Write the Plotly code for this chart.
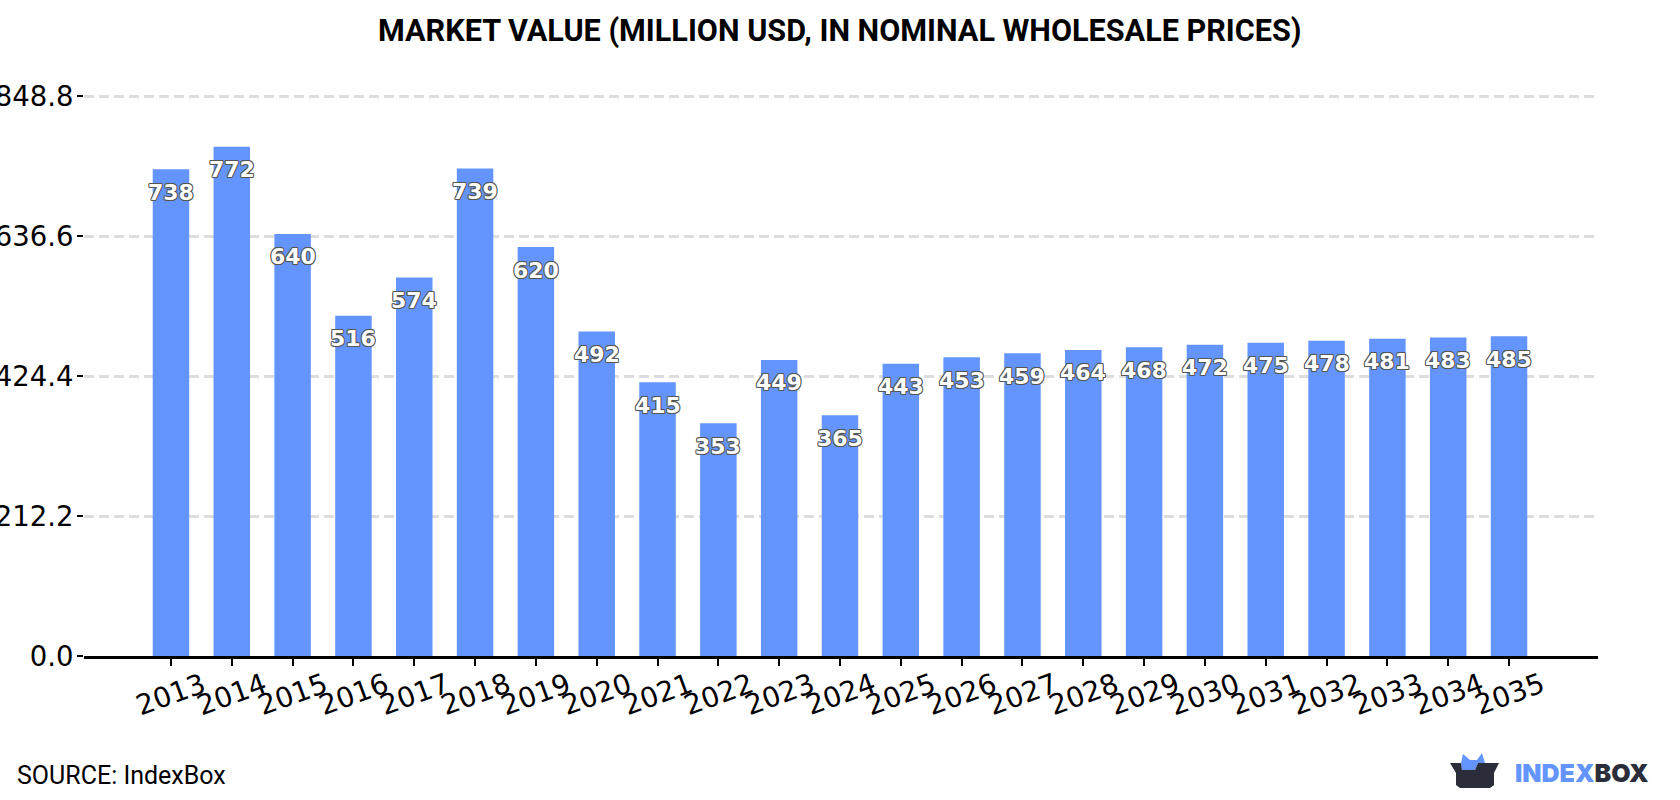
import plotly.graph_objects as go

years = list(range(2013, 2036))
values = [738, 772, 640, 516, 574, 739, 620, 492, 415, 353, 449, 365, 443,
          453, 459, 464, 468, 472, 475, 478, 481, 483, 485]
y_ticks = [0.0, 212.2, 424.4, 636.6, 848.8]
title_text = "MARKET VALUE (MILLION USD, IN NOMINAL WHOLESALE PRICES)"
source_text = "SOURCE: IndexBox"

BLUE = "#6495ff"
DARK = "#2b2d3a"
WIDTH, HEIGHT = 1680, 800
# The plot area runs a little past the top tick so its gridline is kept.
LEFT, RIGHT, TOP, BOTTOM = 84, 1598, 90, 656
Y_MAX = 858.2


def px(x):
    return (x - LEFT) / (RIGHT - LEFT)


def py(y):
    return (BOTTOM - y) / (BOTTOM - TOP)


def path(points):
    return "M" + " L".join(f"{px(x):.5f},{py(y):.5f}" for x, y in points) + " Z"


outline = ", ".join(f"{a}px {b}px 0 #555" for a, b in
                    [(-0.7, -0.7), (0.7, -0.7), (-0.7, 0.7), (0.7, 0.7), (-1, 0), (1, 0), (0, -1), (0, 1)])

fig = go.Figure(go.Bar(x=years, y=values, width=0.6, marker=dict(color=BLUE, line_width=0)))

annotations = []
for year, value in zip(years, values):
    annotations.append(dict(
        x=year, y=value, xref="x", yref="y", text=str(value), showarrow=False,
        yshift=-23, yanchor="middle", xanchor="center",
        font=dict(family="DejaVu Sans", size=22, color="white", weight="bold", shadow=outline),
    ))
    annotations.append(dict(
        x=year, y=0, xref="x", yref="y", text=str(year), showarrow=False,
        yshift=-38, yanchor="middle", xanchor="center", textangle=-20,
        font=dict(family="DejaVu Sans", size=28, color="black"),
    ))

annotations += [
    dict(x=px(840), y=py(31), xref="paper", yref="paper", text=f"<b>{title_text}</b>",
         showarrow=False, xanchor="center", yanchor="middle",
         font=dict(family="Roboto", size=30.6, color="black")),
    dict(x=px(15), y=py(775), xref="paper", yref="paper", text=source_text,
         showarrow=False, xanchor="left", yanchor="middle",
         font=dict(family="Roboto", size=25, color="black")),
    dict(x=px(1651), y=py(773), xref="paper", yref="paper",
         text=f"<span style='color:{BLUE}'>INDEX</span>BOX",
         showarrow=False, xanchor="right", yanchor="middle",
         font=dict(family="Inter", size=25, color=DARK, weight=900)),
]

shapes = [
    dict(type="path", xref="paper", yref="paper", line_width=0, fillcolor=BLUE, layer="above",
         path=path([(1461, 763), (1463, 754), (1470, 760), (1477, 760), (1482, 753), (1485, 763),
                    (1478, 763), (1475, 770), (1462, 770)])),
    dict(type="path", xref="paper", yref="paper", line_width=0, fillcolor=DARK, layer="above",
         path=path([(1450, 763), (1461, 763), (1462, 770), (1475, 770), (1478, 763), (1499, 763),
                    (1494, 773), (1494, 785), (1490, 788), (1460, 788), (1456, 785), (1456, 773)])),
]

fig.update_layout(
    width=WIDTH, height=HEIGHT, autosize=False,
    margin=dict(l=LEFT, r=WIDTH - RIGHT, t=TOP, b=HEIGHT - BOTTOM, pad=0, autoexpand=False),
    paper_bgcolor="white", plot_bgcolor="white", showlegend=False,
    annotations=annotations, shapes=shapes,
    xaxis=dict(range=[2013 - 1.43, 2035 + 1.463], tickmode="array", tickvals=years,
               showticklabels=False, ticks="outside", ticklen=7, tickwidth=2, tickcolor="black",
               showgrid=False, zeroline=False, showline=True, linecolor="black", linewidth=3),
    yaxis=dict(range=[0, Y_MAX], tickmode="array", tickvals=y_ticks,
               ticktext=[f"{v:.1f}" for v in y_ticks], ticks="outside", ticklen=6, tickwidth=2,
               tickcolor="black", showgrid=True, gridcolor="#dddddd", gridwidth=2.5,
               griddash="10px,5px", zeroline=False, showline=False, automargin=False,
               ticklabelstandoff=-2,
               tickfont=dict(family="DejaVu Sans", size=27.5, color="black")),
)

fig.write_html("out.html")
